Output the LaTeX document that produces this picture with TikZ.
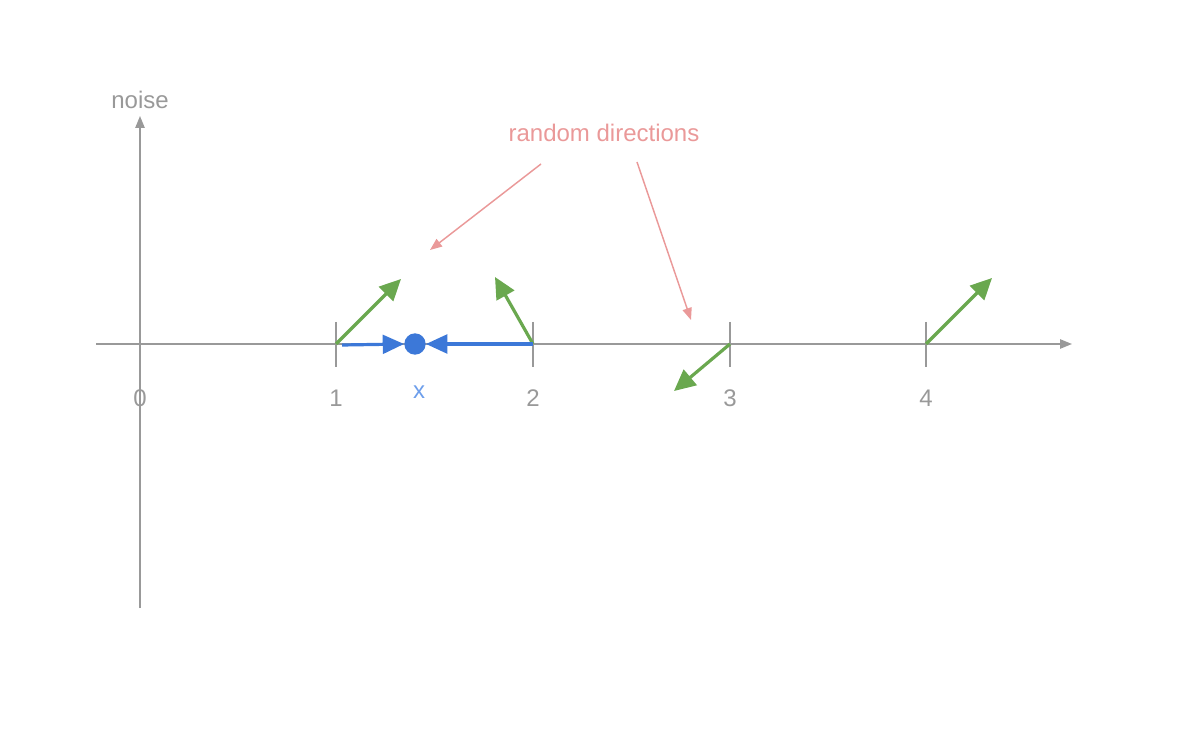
\documentclass[tikz,border=0pt]{standalone}
\usepackage{fontspec}
\setmainfont{Liberation Sans}
\usetikzlibrary{arrows.meta}
\definecolor{axgray}{HTML}{999999}
\definecolor{vgreen}{HTML}{6AA84F}
\definecolor{vblue}{HTML}{3C78D8}
\definecolor{lblue}{HTML}{6D9EEB}
\definecolor{vpink}{HTML}{EA9999}
\begin{document}
\begin{tikzpicture}[x=0.75pt,y=-0.75pt,
  axis/.style={draw=axgray,line width=1.2pt,-{Triangle[length=9pt,width=7pt]}},
  tick/.style={draw=axgray,line width=1.2pt},
  lab/.style={text=axgray,font=\fontsize{18}{21}\selectfont,inner sep=0pt},
  garrow/.style={draw=vgreen,line width=2.4pt,-{Triangle[length=16pt,width=15pt]}},
  barrow/.style={draw=vblue,line width=2.4pt,-{Triangle[length=16pt,width=14pt]}},
  parrow/.style={draw=vpink,line width=1.1pt,-{Triangle[length=9pt,width=7pt]}}]
\useasboundingbox (0,0) rectangle (1200,741);
% coordinates
\coordinate (xl) at (96,344);
\coordinate (xr) at (1072,344);
\coordinate (yb) at (140,608);
\coordinate (yt) at (140,116);
\foreach \i/\x in {1/336,2/533,3/730,4/926}{
  \coordinate (p\i) at (\x,344);
  \coordinate (t\i a) at (\x,322);
  \coordinate (t\i b) at (\x,367);
  \node[lab] (l\i) at (\x,398) {\i};
}
\node[lab] (l0) at (140,398) {0};
\node[lab] (noise) at (140,100) {noise};
\node[lab,text=lblue] (xlab) at (419,392) {x};
\node[lab,text=vpink] (rd) at (604,133) {random directions};
% axes
\draw[axis] (xl) -- (xr);
\draw[axis] (yb) -- (yt);
\foreach \i in {1,...,4}{\draw[tick] (t\i a) -- (t\i b);}
% dot
\node[circle,fill=vblue,minimum size=16pt,inner sep=0pt] (dot) at (415,344) {};
% green arrows
\coordinate (g1) at (401,279);
\coordinate (g2) at (495,277);
\coordinate (g3) at (674,391);
\coordinate (g4) at (992,278);
\draw[garrow] (p1) -- (g1);
\draw[garrow] (p2) -- (g2);
\draw[garrow] (p3) -- (g3);
\draw[garrow] (p4) -- (g4);
% blue arrows
\coordinate (b1) at (342,345);
\draw[barrow] (b1) -- (dot.west);
\draw[barrow] (p2) -- (dot.east);
% pink arrows
\coordinate (r1s) at (541,164);
\coordinate (r1e) at (430,250);
\coordinate (r2s) at (637,162);
\coordinate (r2e) at (691,320);
\draw[parrow] (r1s) -- (r1e);
\draw[parrow] (r2s) -- (r2e);
\end{tikzpicture}
\end{document}
